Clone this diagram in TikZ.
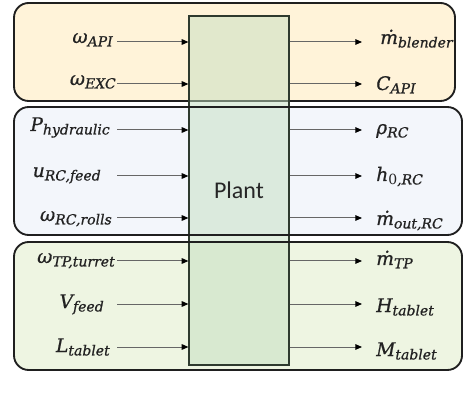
\documentclass[tikz,border=0pt]{standalone}
\usepackage{fontspec}
\usetikzlibrary{arrows.meta}
\newfontfamily\plantfont{Carlito}
\newfontfamily\labfont[ItalicFeatures={FakeBold=0.8}]{DejaVu Serif}
\newcommand{\lbl}[2]{#1\raisebox{-2.6pt}{\fontsize{10.5}{12}\selectfont #2}}
\definecolor{topfill}{HTML}{FFF3D9}
\definecolor{midfill}{HTML}{F3F6FB}
\definecolor{botfill}{HTML}{EEF5E2}
\definecolor{plantfill}{HTML}{C4DFC0}
\definecolor{plantedge}{HTML}{2E3A2E}
\definecolor{arrowgray}{HTML}{666666}
\definecolor{labelcol}{HTML}{222222}
\begin{document}
\begin{tikzpicture}[x=0.75pt,y=-0.75pt,
  grpfill/.style={rounded corners=11pt},
  grpedge/.style={draw=black!88, line width=1.4pt, rounded corners=11pt},
  plantbox/.style={fill=plantfill, fill opacity=0.5, text opacity=1, draw=plantedge, line width=0.9pt,
    minimum width=75pt, minimum height=261.75pt, inner sep=0pt, font=\plantfont\fontsize{18}{20}\selectfont, text=black!85},
  arr/.style={draw=arrowgray, line width=0.75pt, -{Triangle[length=5pt,width=4.2pt,color=black]}},
  inlab/.style={anchor=base east, inner sep=0pt, text=labelcol, font=\labfont\itshape\fontsize{14}{17}\selectfont},
  outlab/.style={anchor=base west, inner sep=0pt, text=labelcol, font=\labfont\itshape\fontsize{14}{17}\selectfont}]
\useasboundingbox (0,0) rectangle (474,402);
% group boxes: fills
\fill[topfill, grpfill] (14,3) rectangle (455,101);
\draw[grpedge] (14,3) rectangle (455,101);
\fill[midfill, grpfill] (14,107) rectangle (462,235);
\fill[botfill, grpfill] (14,242) rectangle (462,370);
% plant
\node[plantbox] (plant) at (239,190.5) {Plant};
% group borders over plant
\draw[grpedge] (14,107) rectangle (462,235);
\draw[grpedge] (14,242) rectangle (462,370);
% input start points
\coordinate (i1) at (117,42);
\coordinate (i2) at (117,84);
\coordinate (i3) at (117,130);
\coordinate (i4) at (117,176);
\coordinate (i5) at (117,218);
\coordinate (i6) at (117,261);
\coordinate (i7) at (117,304);
\coordinate (i8) at (117,347);
% output end points
\coordinate (o1) at (362,42);
\coordinate (o2) at (362,84);
\coordinate (o3) at (362,130);
\coordinate (o4) at (362,176);
\coordinate (o5) at (362,218);
\coordinate (o6) at (362,261);
\coordinate (o7) at (362,304);
\coordinate (o8) at (362,347);
\foreach \k in {1,...,8}{
  \draw[arr] (i\k) -- (i\k -| plant.west);
  \draw[arr] (plant.east |- o\k) -- (o\k);
}
% input labels
\node[inlab] (l1) at (113,43) {\lbl{ω}{API}};
\node[inlab] (l2) at (116,85) {\lbl{ω}{EXC}};
\node[inlab] (l3) at (110,131) {\lbl{P}{hydraulic}};
\node[inlab] (l4) at (101,177) {\lbl{u}{RC,feed}};
\node[inlab] (l5) at (112,221) {\lbl{ω}{RC,rolls}};
\node[inlab] (l6) at (115,263) {\lbl{ω}{TP,turret}};
\node[inlab] (l7) at (104,308) {\lbl{V}{feed}};
\node[inlab] (l8) at (110,352) {\lbl{L}{tablet}};
% output labels
\node[outlab] (r1) at (380,44) {\lbl{ṁ}{blender}};
\node[outlab] (r2) at (376,90) {\lbl{C}{API}};
\node[outlab] (r3) at (376,134) {\lbl{ρ}{RC}};
\node[outlab] (r4) at (376,181) {\lbl{h}{{\upshape 0},RC}};
\node[outlab] (r5) at (376,225) {\lbl{ṁ}{out,RC}};
\node[outlab] (r6) at (376,265) {\lbl{ṁ}{TP}};
\node[outlab] (r7) at (376,312) {\lbl{H}{tablet}};
\node[outlab] (r8) at (376,356) {\lbl{M}{tablet}};
\end{tikzpicture}
\end{document}
